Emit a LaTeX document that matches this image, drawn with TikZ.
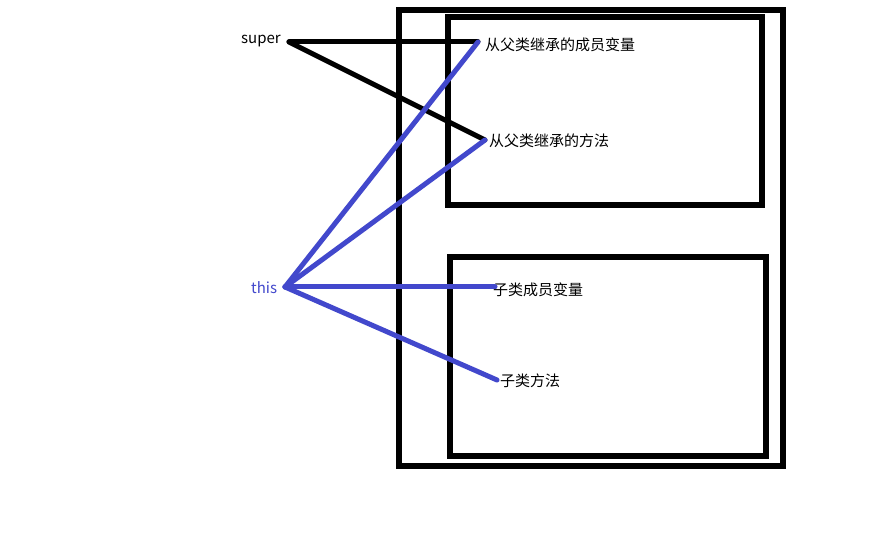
\documentclass[tikz,border=0pt]{standalone}
\usepackage{fontspec}
\setmainfont{Noto Sans CJK SC}
\begin{document}
\begin{tikzpicture}[x=1pt,y=-1pt,
  box/.style={draw=black,line width=5.5pt},
  blk/.style={draw=black,line width=5pt,line cap=round},
  blu/.style={draw=thisblue,line width=5pt,line cap=round},
  lbl/.style={anchor=west,inner sep=0pt,font=\fontsize{15}{17}\selectfont}]
\definecolor{thisblue}{RGB}{66,72,204}
\useasboundingbox[fill=white] (0,0) rectangle (887,556);
% boxes
\draw[box] (399,10) rectangle (783,466);
\draw[box] (448,17) rectangle (762,205);
\draw[box] (450,257) rectangle (766,456);
% labels
\node[lbl] (super) at (241,41) {super};
\node[lbl,text=thisblue] (this) at (251,288) {this};
\node[lbl] (t1) at (485,45) {从父类继承的成员变量};
\node[lbl] (t2) at (489,141) {从父类继承的方法};
\node[lbl] (t3) at (493,290) {子类成员变量};
\node[lbl] (t4) at (500,381) {子类方法};
% endpoints
\coordinate (s) at (289,42);
\coordinate (h) at (285,287);
\coordinate (c1) at (478,42);
\coordinate (c2) at (485,140);
\coordinate (c3) at (495,287);
\coordinate (c4) at (497,380);
% connectors
\draw[blk] (s) -- (c1);
\draw[blk] (s) -- (c2);
\draw[blu] (h) -- (c1);
\draw[blu] (h) -- (c2);
\draw[blu] (h) -- (c3);
\draw[blu] (h) -- (c4);
\end{tikzpicture}
\end{document}
